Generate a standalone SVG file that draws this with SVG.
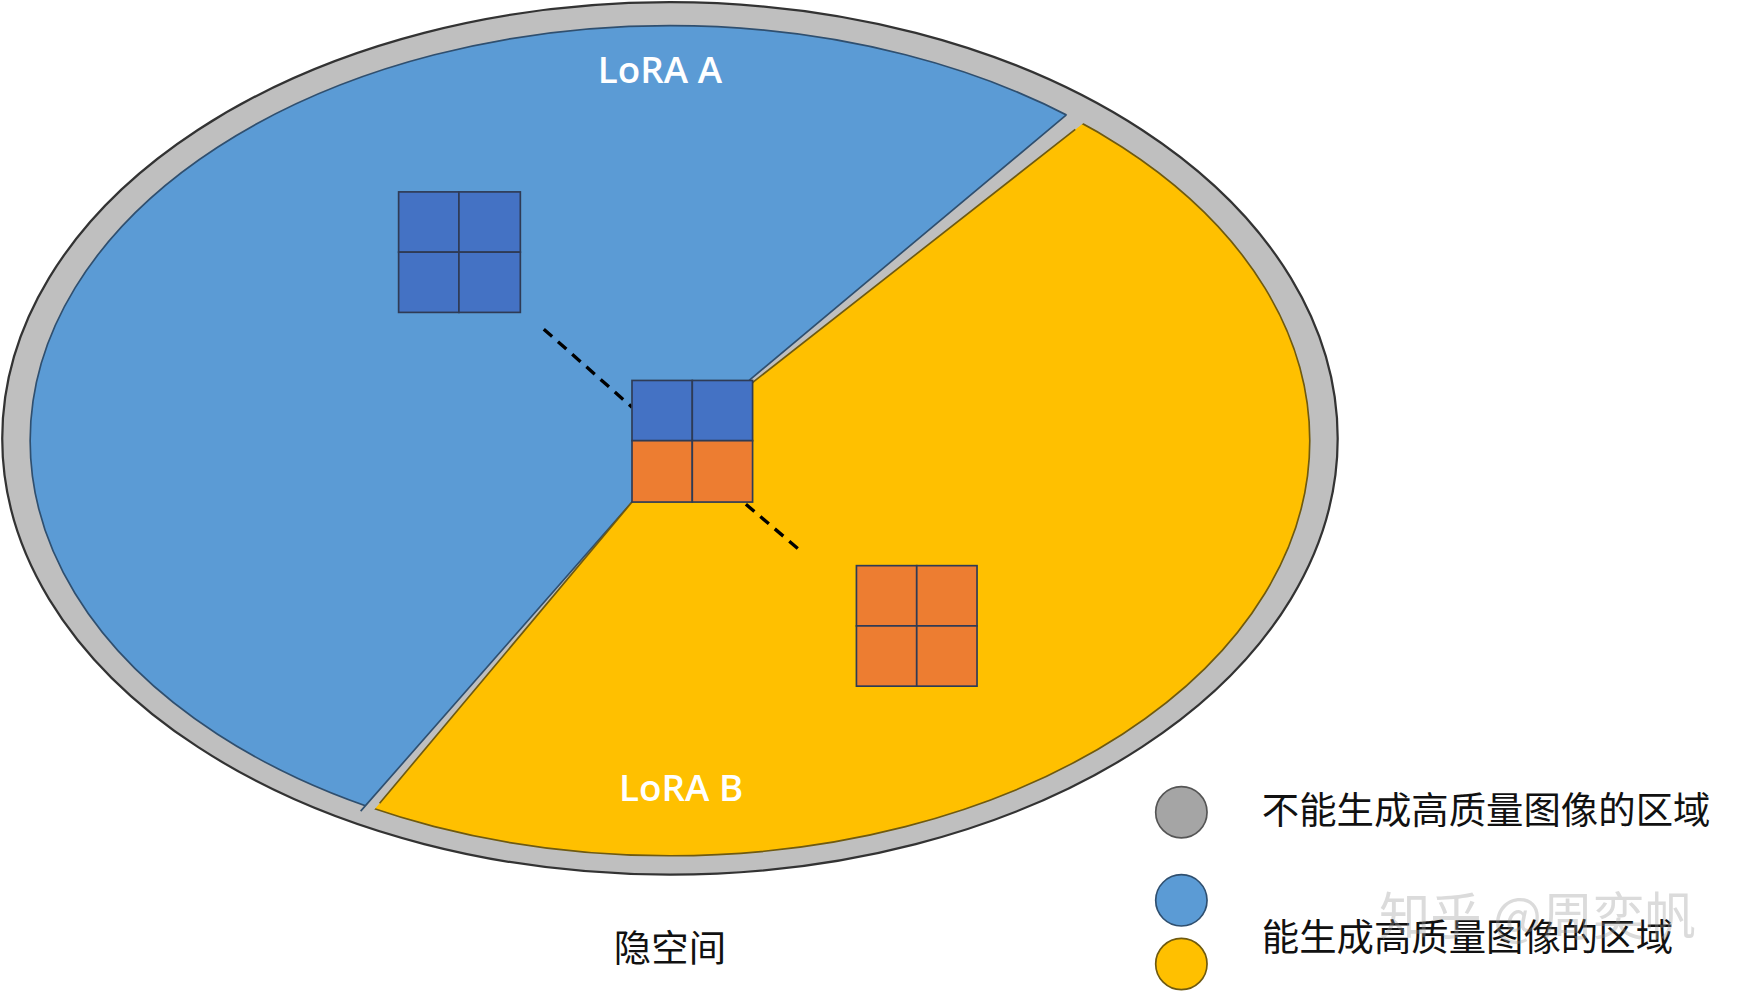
<svg xmlns="http://www.w3.org/2000/svg" width="1751" height="993" viewBox="0 0 1751 993">
<style>
.cell{stroke:#2F3B55;stroke-width:1.5}
.b{fill:#4472C4}.o{fill:#ED7D31}
.lbl{font-family:"Open Sans","Noto Sans",sans-serif;font-weight:600;font-size:33px;fill:#fff;text-anchor:middle}
.cn{font-family:"Noto Sans CJK SC",sans-serif;font-size:33.5px;fill:#111}
</style>
<defs>
<clipPath id="cA"><polygon points="1078,0 672,340 566,450 259,800 0,800 0,0"/></clipPath>
<clipPath id="cB"><polygon points="1111,0 1300,0 1300,800 273,800 340,720 566,450 675,342"/></clipPath>
</defs>
<rect width="1751" height="993" fill="#fff"/>
<g transform="scale(1.1166,1.1157)">
<g id="space"><ellipse cx="600" cy="393" rx="598" ry="391" fill="#BFBFBF" stroke="#333" stroke-width="2"/></g>
<g id="regionA"><ellipse cx="600" cy="395" rx="573" ry="372" fill="#5B9BD5" stroke="#2F4F6F" stroke-width="1.5" clip-path="url(#cA)"/>
<polyline points="955,103 672,340 566,450 323,727" fill="none" stroke="#2F4F6F" stroke-width="1.5"/></g>
<g id="regionB"><ellipse cx="600" cy="395" rx="573" ry="372" fill="#FFC000" stroke="#6F5A10" stroke-width="1.5" clip-path="url(#cB)"/>
<polyline points="963,116 675,342 566,450 340,720" fill="none" stroke="#6F5A10" stroke-width="1.5"/></g>
<g id="connectors" stroke="#000" stroke-width="3" stroke-dasharray="10,7" fill="none">
<line x1="487" y1="295" x2="566" y2="365"/>
<line x1="668" y1="452" x2="715" y2="492"/>
</g>
<g id="gridA">
<rect class="cell b" x="357" y="172" width="54" height="54"/><rect class="cell b" x="411" y="172" width="55" height="54"/>
<rect class="cell b" x="357" y="226" width="54" height="54"/><rect class="cell b" x="411" y="226" width="55" height="54"/>
</g>
<g id="gridMix">
<rect class="cell b" x="566" y="341" width="54" height="54"/><rect class="cell b" x="620" y="341" width="54" height="54"/>
<rect class="cell o" x="566" y="395" width="54" height="55"/><rect class="cell o" x="620" y="395" width="54" height="55"/>
</g>
<g id="gridB">
<rect class="cell o" x="767" y="507" width="54" height="54"/><rect class="cell o" x="821" y="507" width="54" height="54"/>
<rect class="cell o" x="767" y="561" width="54" height="54"/><rect class="cell o" x="821" y="561" width="54" height="54"/>
</g>
<text class="lbl" x="591" y="74">LoRA A</text>
<text class="lbl" x="610" y="718">LoRA B</text>
<text class="cn" x="600" y="862" text-anchor="middle">隐空间</text>
<g id="legend">
<circle cx="1058" cy="728" r="23" fill="#A5A5A5" stroke="#555" stroke-width="1.5"/>
<circle cx="1058" cy="807" r="23" fill="#5B9BD5" stroke="#2F4F6F" stroke-width="1.5"/>
<circle cx="1058" cy="864" r="23" fill="#FFC000" stroke="#6F5A10" stroke-width="1.5"/>
<text class="cn" x="1130" y="739">不能生成高质量图像的区域</text>
<text class="cn" x="1130" y="852">能生成高质量图像的区域</text>
</g>
<text x="1235" y="838" font-family="Noto Sans CJK SC,sans-serif" font-size="46" fill="#999" fill-opacity="0.35">知乎 @周奕帆</text>
</g>
</svg>
